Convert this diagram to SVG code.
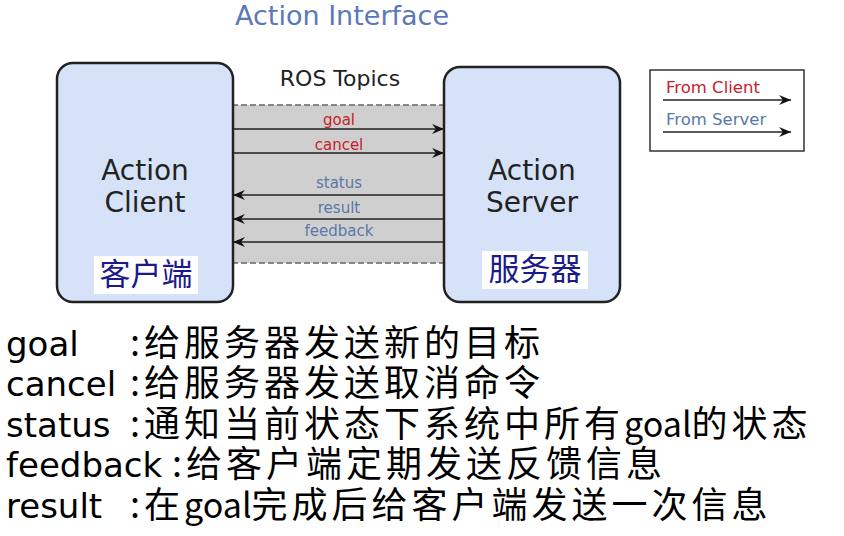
<svg xmlns="http://www.w3.org/2000/svg" width="844" height="536" viewBox="0 0 844 536">
<style>
text{font-family:"DejaVu Sans","Noto Sans CJK SC",sans-serif}
.box{fill:#d6e2f7;stroke:#222;stroke-width:2.5}
.ln{stroke:#222;stroke-width:1.5}
.dash{stroke:#666;stroke-width:1.5;stroke-dasharray:6,3}
.red{fill:#c8202a;font-size:15px}
.blue{fill:#5b78a8;font-size:15px}
.big{font-size:28px;fill:#222}
.cjk{font-family:"Noto Sans CJK SC",sans-serif;font-size:31px;fill:#1a1a8c}
.desc{font-size:34px;fill:#000;letter-spacing:0}
.dc{font-size:36px;fill:#000;font-family:"Noto Sans CJK SC",sans-serif;letter-spacing:4px}
</style>
<defs>
<marker id="ah" viewBox="0 0 12 10" refX="12" refY="5" markerWidth="12" markerHeight="10" markerUnits="userSpaceOnUse" orient="auto"><path d="M0,0 L12,5 L0,10 L4,5 z" fill="#111"/></marker>
</defs>
<rect width="844" height="536" fill="#fff"/>
<text x="342" y="25" text-anchor="middle" font-size="27" fill="#5b78b8">Action Interface</text>
<text x="340" y="86" text-anchor="middle" font-size="22" fill="#222">ROS Topics</text>
<g id="topics">
<rect x="232" y="105" width="213" height="158" fill="#cfcfcf"/>
<line class="dash" x1="232" y1="105" x2="445" y2="105"/>
<line class="dash" x1="232" y1="263" x2="445" y2="263"/>
</g>
<g id="client"><rect class="box" x="57" y="63" width="176" height="239" rx="16"/>
<text class="big" x="145" y="180" text-anchor="middle">Action</text>
<text class="big" x="145" y="212" text-anchor="middle">Client</text>
<rect x="94" y="256" width="104" height="38" fill="#fff"/>
<text class="cjk" x="146" y="285" text-anchor="middle">客户端</text></g>
<g id="server"><rect class="box" x="444" y="67" width="176" height="235" rx="16"/>
<text class="big" x="532" y="180" text-anchor="middle">Action</text>
<text class="big" x="532" y="212" text-anchor="middle">Server</text>
<rect x="482" y="251" width="106" height="38" fill="#fff"/>
<text class="cjk" x="535" y="280" text-anchor="middle">服务器</text></g>
<g id="connectors">
<line class="ln" x1="233" y1="129" x2="444" y2="129" marker-end="url(#ah)"/>
<line class="ln" x1="233" y1="153" x2="444" y2="153" marker-end="url(#ah)"/>
<line class="ln" x1="444" y1="195" x2="233" y2="195" marker-end="url(#ah)"/>
<line class="ln" x1="444" y1="219" x2="233" y2="219" marker-end="url(#ah)"/>
<line class="ln" x1="444" y1="242" x2="233" y2="242" marker-end="url(#ah)"/>
<text class="red" x="339" y="125" text-anchor="middle">goal</text>
<text class="red" x="339" y="150" text-anchor="middle">cancel</text>
<text class="blue" x="339" y="188" text-anchor="middle">status</text>
<text class="blue" x="339" y="213" text-anchor="middle">result</text>
<text class="blue" x="339" y="236" text-anchor="middle">feedback</text>
</g>
<g id="legend"><rect x="650" y="70" width="154" height="81" fill="#fff" stroke="#333" stroke-width="1.5"/>
<text x="666" y="93" font-size="16.5" fill="#c8202a">From Client</text>
<line class="ln" x1="663" y1="100" x2="791" y2="100" marker-end="url(#ah)"/>
<text x="666" y="125" font-size="16.5" fill="#5b78a8">From Server</text>
<line class="ln" x1="663" y1="132" x2="791" y2="132" marker-end="url(#ah)"/>
</g>
<g id="desc">
<text class="desc" x="6" y="356">goal</text><text class="dc" x="130" y="356">:给服务器发送新的目标</text>
<text class="desc" x="6" y="396">cancel</text><text class="dc" x="130" y="396">:给服务器发送取消命令</text>
<text class="desc" x="6" y="437">status</text><text class="dc" x="130" y="437">:通知当前状态下系统中所有<tspan class="desc">goal</tspan>的状态</text>
<text class="desc" x="6" y="477">feedback</text><text class="dc" x="172" y="477">:给客户端定期发送反馈信息</text>
<text class="desc" x="6" y="518">result</text><text class="dc" x="130" y="518">:在<tspan class="desc">goal</tspan>完成后给客户端发送一次信息</text>
</g>
</svg>
